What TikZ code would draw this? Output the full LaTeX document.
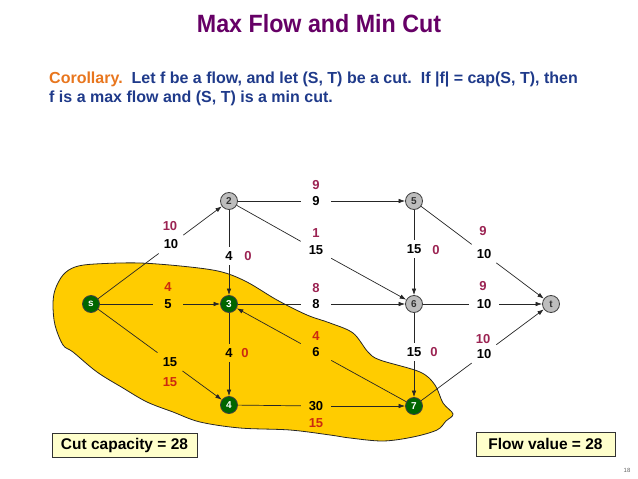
\documentclass[tikz,border=0pt]{standalone}
\usepackage{fontspec}
\setmainfont{Liberation Sans}
\newfontfamily\titlefont[FakeStretch=0.93]{Liberation Sans}
\usetikzlibrary{arrows.meta}
\definecolor{titlepurple}{HTML}{660066}
\definecolor{corange}{HTML}{E8761E}
\definecolor{navy}{HTML}{1F3A8A}
\definecolor{blobyellow}{HTML}{FFCC00}
\definecolor{boxyellow}{HTML}{FFFFCC}
\definecolor{nodegreen}{HTML}{006600}
\definecolor{nodegray}{HTML}{BDBDBD}
\definecolor{flowmaroon}{HTML}{9B2352}
\definecolor{flowred}{HTML}{CC2A10}
\begin{document}
\begin{tikzpicture}[x=1pt,y=-1pt,
  vtx/.style={circle,draw=black!75,line width=0.8pt,minimum size=17pt,inner sep=0pt,font=\fontsize{10}{10}\selectfont\bfseries},
  grayv/.style={vtx,fill=nodegray,text=black!80},
  greenv/.style={vtx,fill=nodegreen,text=white},
  caplab/.style={font=\fontsize{13}{13}\selectfont\bfseries,minimum width=30pt,minimum height=18pt,inner sep=0pt},
  flm/.style={font=\fontsize{13}{13}\selectfont\bfseries,text=flowmaroon,inner sep=0pt},
  flr/.style={flm,text=flowred},
  conn/.style={draw=black!85,line width=0.7pt},
  arr/.style={conn,-{Latex[length=6.5pt,width=4.5pt]}},
  infobox/.style={draw=black!80,line width=1pt,fill=boxyellow,minimum height=24pt,inner sep=0pt,font=\fontsize{15.5}{15.5}\selectfont\bfseries}
]
\path[use as bounding box] (0,0) rectangle (638,479);

% title and text
\node[anchor=base,text=titlepurple,font=\titlefont\bfseries\fontsize{25}{25}\selectfont,inner sep=0pt] (title) at (319,32) {Max Flow and Min Cut};
\node[anchor=base west,inner sep=0pt,font=\fontsize{16}{16}\selectfont\bfseries] (line1) at (49,83) {\textcolor{corange}{Corollary.}\textcolor{navy}{\ \ Let f be a flow, and let (S, T) be a cut.\ \ If |f| = cap(S, T), then}};
\node[anchor=base west,inner sep=0pt,font=\fontsize{16}{16}\selectfont\bfseries,text=navy] (line2) at (49,102.5) {f is a max flow and (S, T) is a min cut.};

% cut region
\filldraw[fill=blobyellow,draw=black!85,line width=0.8pt] plot[smooth cycle,tension=0.55] coordinates {
(53,305) (55,290) (63,275) (75,267) (95,264) (140,263) (190,267) (222,272)
(247,282) (277,300) (307,315) (330,323) (353,333) (368,352) (380,360) (420,372)
(435,385) (443,403) (453,414) (446,421) (437,430) (413,437) (383,441) (350,438)
(330,435) (290,430) (240,428) (200,422) (173,412) (147,402) (123,388) (97,372)
(73,352) (63,345) (55,325)};

% vertices
\node[greenv] (s) at (91,304) {s};
\node[grayv] (n2) at (229,201) {2};
\node[greenv] (n3) at (229,304) {3};
\node[greenv] (n4) at (229,405) {4};
\node[grayv] (n5) at (414,201) {5};
\node[grayv] (n6) at (414,304) {6};
\node[greenv] (n7) at (414,406) {7};
\node[grayv] (t) at (551,304) {t};

% capacity labels
\node[caplab] (cs2) at (171,244.3) {10};
\node[caplab] (cs3) at (168,304) {5};
\node[caplab] (cs4) at (170,361.8) {15};
\node[caplab] (c23) at (229,256) {4};
\node[caplab] (c34) at (229,353) {4};
\node[caplab] (c25) at (316,201) {9};
\node[caplab] (c26) at (316,249.9) {15};
\node[caplab] (c36) at (316,304) {8};
\node[caplab] (c73) at (316,352) {6};
\node[caplab] (c47) at (316,406) {30};
\node[caplab] (c56) at (414,249) {15};
\node[caplab] (c67) at (414,352) {15};
\node[caplab] (c5t) at (484,253.6) {10};
\node[caplab] (c6t) at (484,304) {10};
\node[caplab] (c7t) at (484,353.9) {10};

% flow labels
\node[flm] (fs2) at (170,226) {10};
\node[flr] (fs3) at (168,287) {4};
\node[flr] (fs4) at (170,382) {15};
\node[flm] (f23) at (248,256) {0};
\node[flr] (f34) at (245,353) {0};
\node[flm] (f25) at (316,185) {9};
\node[flm] (f26) at (316,233) {1};
\node[flm] (f36) at (316,288) {8};
\node[flr] (f73) at (316,336) {4};
\node[flr] (f47) at (316,423) {15};
\node[flm] (f56) at (436,250) {0};
\node[flm] (f67) at (434,352) {0};
\node[flm] (f5t) at (483,231) {9};
\node[flm] (f6t) at (483,286) {9};
\node[flm] (f7t) at (483,339) {10};

% connectors
\draw[conn] (s) -- (cs2); \draw[arr] (cs2) -- (n2);
\draw[conn] (s) -- (cs3); \draw[arr] (cs3) -- (n3);
\draw[conn] (s) -- (cs4); \draw[arr] (cs4) -- (n4);
\draw[conn] (n2) -- (c23); \draw[arr] (c23) -- (n3);
\draw[conn] (n3) -- (c34); \draw[arr] (c34) -- (n4);
\draw[conn] (n2) -- (c25); \draw[arr] (c25) -- (n5);
\draw[conn] (n2) -- (c26); \draw[arr] (c26) -- (n6);
\draw[conn] (n3) -- (c36); \draw[arr] (c36) -- (n6);
\draw[conn] (n7) -- (c73); \draw[arr] (c73) -- (n3);
\draw[conn] (n4) -- (c47); \draw[arr] (c47) -- (n7);
\draw[conn] (n5) -- (c56); \draw[arr] (c56) -- (n6);
\draw[conn] (n6) -- (c67); \draw[arr] (c67) -- (n7);
\draw[conn] (n5) -- (c5t); \draw[arr] (c5t) -- (t);
\draw[conn] (n6) -- (c6t); \draw[arr] (c6t) -- (t);
\draw[conn] (n7) -- (c7t); \draw[arr] (c7t) -- (t);

% boxes
\node[infobox,minimum width=145pt] (cutbox) at (124.5,445) {Cut capacity = 28};
\node[infobox,minimum width=139pt] (flowbox) at (545.5,444) {Flow value = 28};

\node[font=\fontsize{6}{6}\selectfont,text=black!60,inner sep=0pt] (pageno) at (627,470) {18};
\end{tikzpicture}
\end{document}
